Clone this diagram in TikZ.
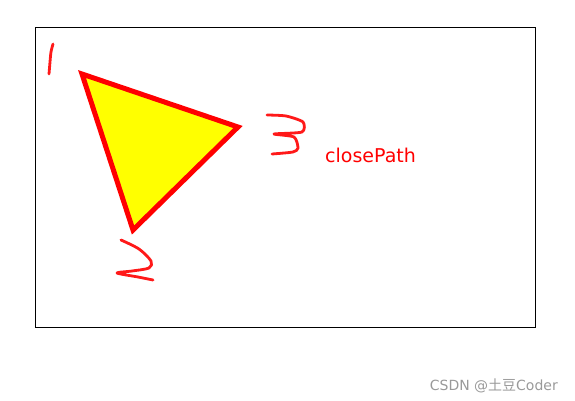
\documentclass[tikz,border=0pt]{standalone}
\usepackage{fontspec}
\setsansfont{DejaVu Sans}
\newfontfamily\cjkfont{Noto Sans CJK SC}
\definecolor{fillyellow}{RGB}{255,255,0}
\definecolor{penred}{RGB}{255,0,0}
\tikzstyle{every node}=[font=\sffamily]

\begin{document}
\begin{tikzpicture}[
            x=1pt, y=-1pt,
            canvas/.style={draw=black, line width=1pt},
            tri/.style={draw=penred, fill=fillyellow, line width=5pt, line join=miter},
            scribble/.style={draw=penred!90!white, line width=2.8pt, line cap=round, line join=round},
            caption/.style={text=penred, font=\sffamily\fontsize{19}{19}\selectfont, anchor=base west, inner sep=0pt},
            watermark/.style={text=black!40, font=\sffamily\fontsize{14}{14}\selectfont, anchor=base east, inner sep=0pt}]
    \useasboundingbox (0,0) rectangle (575,401);
    \draw[canvas] (35,28) rectangle (535,327);
    % triangle points
    \coordinate (p1) at (82,74);
    \coordinate (p2) at (133,230);
    \coordinate (p3) at (238,127);
    \draw[tri] (p1) -- (p2) -- (p3) -- cycle;
    % handwritten numbers
    \draw[scribble] plot[smooth] coordinates {(53,44) (51,52) (50,62) (49,74)};
    \draw[scribble] plot[smooth, tension=0.5] coordinates {(121,240) (139,249) (151,261) (149,268) (132,271) (117,273) (138,277) (153,280)};
    \draw[scribble] plot[smooth, tension=0.4] coordinates {(267,115) (286,116) (303,122) (302,132) (274,134) (294,137) (298,148) (293,152) (272,154)};
    \node[caption] (close) at (325,162) {closePath};
    \node[watermark] (csdn) at (558,390) {CSDN @{\cjkfont 土豆}Coder};
\end{tikzpicture}
\end{document}
